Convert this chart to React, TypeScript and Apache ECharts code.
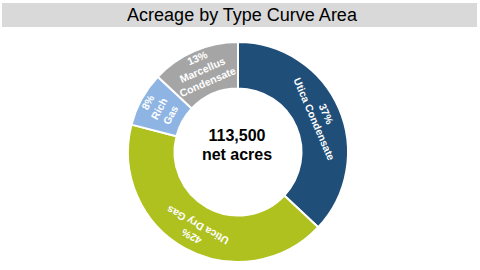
import React, { useEffect, useRef } from "react";
import * as echarts from "echarts";

const categories = ["Utica Condensate", "Utica Dry Gas", "Rich Gas", "Marcellus Condensate"];
const labelNames = ["Utica Condensate", "Utica Dry Gas", "Rich\nGas", "Marcellus\nCondensate"];
const shares = [37, 42, 8, 13];
const colors = ["#1f4e79", "#afc11f", "#8db4e2", "#a5a5a5"];
const titleText = "Acreage by Type Curve Area";
const centerLines = ["113,500", "net acres"];

export default function App() {
  const ref = useRef<HTMLDivElement>(null);
  useEffect(() => {
    const chart = echarts.init(ref.current!, null, { renderer: "svg" });
    const total = shares.reduce((a, b) => a + b, 0);
    let cum = 0;
    const data = shares.map((v, i) => {
      const mid = (cum + v / 2) / total;
      cum += v;
      return {
        name: categories[i],
        value: v,
        itemStyle: { color: colors[i] },
        label: {
          rotate: -360 * mid,
          formatter: `${v}%\n${labelNames[i]}`,
        },
      };
    });
    chart.setOption({
      animation: false,
      graphic: [
        {
          type: "rect",
          shape: { x: 2, y: 3, width: 475, height: 24 },
          style: { fill: "#d9d9d9" },
          silent: true,
        },
        {
          type: "text",
          x: 242,
          y: 15,
          style: {
            text: titleText,
            fill: "#000",
            font: "18px 'Liberation Sans', Arial, sans-serif",
            align: "center",
            verticalAlign: "middle",
          },
        },
        {
          type: "text",
          x: 237,
          y: 145,
          style: {
            text: centerLines.join("\n"),
            fill: "#000",
            font: "bold 16px 'Liberation Sans', Arial, sans-serif",
            lineHeight: 19,
            align: "center",
            verticalAlign: "middle",
          },
        },
      ],
      series: [
        {
          type: "pie",
          center: [238, 152],
          radius: [63.5, 110],
          startAngle: 90,
          clockwise: true,
          itemStyle: { borderColor: "#fff", borderWidth: 2 },
          label: {
            show: true,
            position: "inside",
            color: "#fff",
            fontFamily: "'Liberation Sans', Arial, sans-serif",
            fontSize: 10.5,
            fontWeight: "bold",
            lineHeight: 13,
            align: "center",
          },
          labelLine: { show: false },
          emphasis: { disabled: true },
          data,
        },
      ],
    });
    return () => chart.dispose();
  }, []);
  return (
    <div
      ref={ref}
      style={{ position: "absolute", left: 0, top: 0, width: 480, height: 270, background: "#fff" }}
    />
  );
}
